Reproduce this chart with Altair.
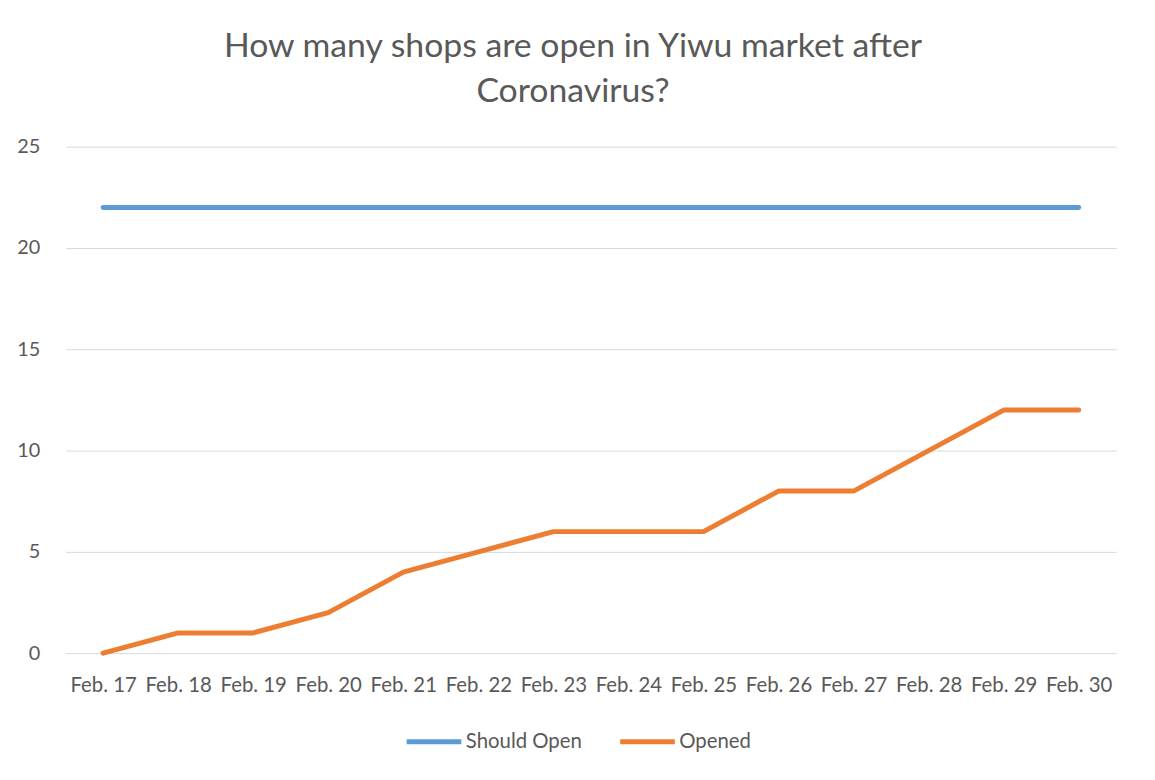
import altair as alt
import pandas as pd

dates = ["Feb. 17", "Feb. 18", "Feb. 19", "Feb. 20", "Feb. 21", "Feb. 22", "Feb. 23",
         "Feb. 24", "Feb. 25", "Feb. 26", "Feb. 27", "Feb. 28", "Feb. 29", "Feb. 30"]
should_open = [22, 22, 22, 22, 22, 22, 22, 22, 22, 22, 22, 22, 22, 22]
opened = [0, 1, 1, 2, 4, 5, 6, 6, 6, 8, 8, 10, 12, 12]
series = ["Should Open", "Opened"]
colors = ["#5B9BD5", "#ED7D31"]

rows = []
for name, vals in zip(series, [should_open, opened]):
    for d, v in zip(dates, vals):
        rows.append({"date": d, "series": name, "value": v})
df = pd.DataFrame(rows)

FONT = "Lato"
GREY = "#595959"

chart = alt.Chart(df).mark_line(strokeWidth=5, strokeCap="round", strokeJoin="round").encode(
    x=alt.X("date:N", sort=dates, scale=alt.Scale(type="point", padding=0.5),
            axis=alt.Axis(title=None, labelAngle=0, labelFontSize=20.5, labelColor=GREY,
                          labelFont=FONT, ticks=False, domain=False, grid=False,
                          labelPadding=23, labelOverlap=False, labelBaseline="top")),
    y=alt.Y("value:Q", scale=alt.Scale(domain=[0, 25], nice=False),
            axis=alt.Axis(title=None, values=[0, 5, 10, 15, 20, 25], labelFontSize=20,
                          labelColor=GREY, labelFont=FONT, ticks=False, domain=False,
                          gridColor="#D9D9D9", gridWidth=1, labelPadding=26)),
    color=alt.Color("series:N", sort=series,
                    scale=alt.Scale(domain=series, range=colors),
                    legend=alt.Legend(title=None, orient="none", direction="horizontal",
                                      legendX=341, legendY=569,
                                      symbolType="stroke", symbolSize=3025,
                                      symbolStrokeWidth=5, labelFontSize=20.5,
                                      labelColor=GREY, labelFont=FONT, labelOffset=2,
                                      columnPadding=28)),
).properties(
    width=1058,
    height=510,
    title=alt.TitleParams(
        text=["How many shops are open in Yiwu market after", "Coronavirus?"],
        fontSize=34, font=FONT, color=GREY, fontWeight="normal",
        lineHeight=45, anchor="middle", dx=-18, offset=28,
    ),
    padding={"left": 58, "top": 137, "right": 31, "bottom": 120},
    autosize=alt.AutoSizeParams(type="none"),
).configure(background="white").configure_view(strokeWidth=0, stroke=None)

chart.save("out.html", embed_options={"renderer": "svg", "actions": False})
